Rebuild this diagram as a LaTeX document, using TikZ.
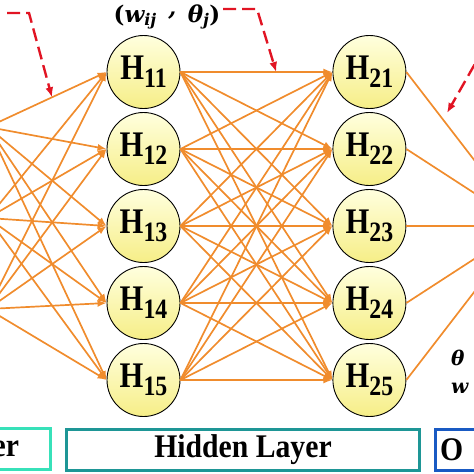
\documentclass[tikz,border=0pt]{standalone}
\usepackage{amsmath}
\usepackage{amssymb}
\usepackage{fontspec}
\setmainfont{Liberation Serif}[FakeStretch=0.9]
\newfontfamily\labfont{Liberation Serif}[FakeStretch=0.85]
\newfontfamily\symfont{DejaVu Serif}
\usetikzlibrary{arrows.meta,positioning,calc}

\definecolor{edgeorange}{RGB}{240,140,45}
\definecolor{notered}{RGB}{225,20,35}
\definecolor{inaqua}{RGB}{55,225,185}
\definecolor{hidteal}{RGB}{30,150,150}
\definecolor{outblue}{RGB}{25,90,195}
\definecolor{celltop}{RGB}{255,255,222}
\definecolor{cellbot}{RGB}{246,238,135}

\newcommand{\hlab}[1]{{\fontsize{36}{36}\selectfont H}\raisebox{-8pt}{\fontsize{28}{28}\selectfont #1}}

\begin{document}
\begin{tikzpicture}[
    x=1pt, y=-1pt,
    node distance=152pt,
    neuron/.style={circle, draw=black, line width=0.9pt, minimum size=73pt, inner sep=0pt, top color=celltop, bottom color=cellbot, font=\labfont\bfseries},
    link/.style={-{Latex[length=9pt,width=7pt]}, draw=edgeorange, line width=1.7pt},
    note/.style={-{Latex[length=10pt,width=8pt]}, draw=notered, line width=2.4pt, dash pattern=on 13pt off 6pt},
    layerbox/.style={rectangle, line width=3pt, minimum height=41pt, font=\fontsize{33}{33}\selectfont\bfseries},
    sym/.style={inner sep=0pt, font=\symfont\fontsize{20}{20}\selectfont\bfseries\itshape}
]
    \useasboundingbox (0,0) rectangle (474,474);
    \clip (0,0) rectangle (474,474);

    % layers
    \foreach \i/\y in {1/127, 2/218, 3/309}
        \node[neuron] (I\i) at (-49,\y) {};
    \foreach \j in {1,...,5} {
        \node[neuron] (H1\j) at (143.5, {72+77*(\j-1)}) {\hlab{1\j}};
        \node[neuron, right=of H1\j] (H2\j) {\hlab{2\j}};
    }
    \node[neuron] (O) at (562,226) {};

    % weights
    \foreach \i in {1,2,3}
        \foreach \j in {1,...,5}
            \draw[link] (I\i.east) -- (H1\j.west);
    \foreach \i in {1,...,5}
        \foreach \j in {1,...,5}
            \draw[link] (H1\i.east) -- (H2\j.west);
    \foreach \i in {1,...,5}
        \draw[link, -] (H2\i.east) -- (O.west);

    % notes
    \path (I1.east) -- (H11.west) coordinate[pos=0.54] (tipA);
    \path (H11.east) -- (H21.west) coordinate[pos=0.63] (tipB);
    \coordinate (noteA) at (7,13);
    \coordinate (noteB) at (223,9);
    \coordinate (noteC) at (484,48);
    \coordinate (tipC) at (447,113);
    \draw[note] (noteA) -- (29,13) -- (tipA);
    \draw[note] (noteB) -- (257,9) -- (tipB);
    \draw[note] (noteC) -- (tipC);

    \node[sym, font=\symfont\fontsize{23}{23}\selectfont\bfseries\itshape] (wt) at (167,17)
        {{\upshape(}w\textsubscript{ij}\enspace\raisebox{0.3em}{,}\enspace θ\textsubscript{j}{\upshape)}};
    \node[sym, anchor=west] (th) at (451,358) {θ};
    \node[sym, anchor=west] (ww) at (451,388) {w};

    % layer boxes
    \node[layerbox, draw=inaqua, anchor=east, text width=150pt, align=right, inner xsep=31pt] (inbox) at (51.5,448.5) {er};
    \node[layerbox, draw=hidteal, minimum width=353pt] (hidbox) at (243,450) {Hidden Layer};
    \node[layerbox, draw=outblue, anchor=west, text width=150pt, align=left, inner xsep=5pt] (outbox) at (433.5,450) {O};
\end{tikzpicture}
\end{document}
